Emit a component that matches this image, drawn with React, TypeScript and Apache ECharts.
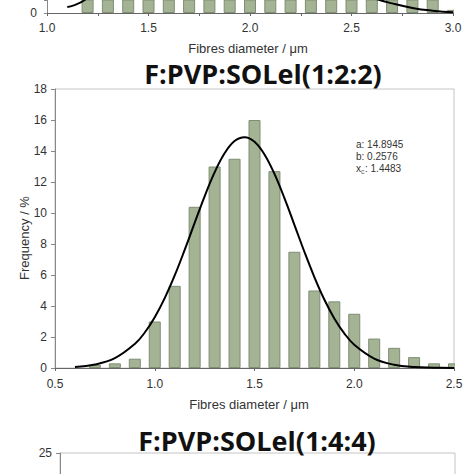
import React, { useEffect, useRef } from "react";
import * as echarts from "echarts";

// ---- Top (partially visible) chart ----
const topBins = [1.2, 1.3, 1.4, 1.5, 1.6, 1.7, 1.8, 1.9, 2.0, 2.1, 2.2, 2.3, 2.4, 2.5, 2.6, 2.7, 2.8, 2.9, 3.0];
const topFreq = [2.0, 3.5, 5.5, 8.0, 9.5, 11.0, 12.5, 11.0, 10.5, 9.0, 7.5, 5.5, 4.5, 3.0, 2.2, 1.5, 1.2, 1.0, 0.2];
const topFitX = [1.1, 1.2, 1.3, 1.4, 1.5, 1.6, 1.7, 1.8, 1.9, 2.0, 2.1, 2.2, 2.3, 2.4, 2.5, 2.6, 2.7, 2.8, 2.9, 3.0];
const topFitY = [0.39, 1.0, 3.0, 5.5, 8.2, 10.5, 11.8, 12.0, 11.2, 9.6, 7.6, 5.6, 3.8, 2.4, 1.5, 1.0, 0.62, 0.33, 0.15, 0.05];

// ---- Middle chart F:PVP:SOLel(1:2:2) ----
const midBins = [0.7, 0.8, 0.9, 1.0, 1.1, 1.2, 1.3, 1.4, 1.5, 1.6, 1.7, 1.8, 1.9, 2.0, 2.1, 2.2, 2.3, 2.4, 2.5];
const midFreq = [0.2, 0.3, 0.6, 3.0, 5.3, 10.4, 13.0, 13.5, 16.0, 12.7, 7.5, 5.0, 4.3, 3.5, 1.9, 1.3, 0.7, 0.3, 0.3];
const midFitX = [0.6, 0.7, 0.8, 0.9, 0.95, 1.0, 1.05, 1.1, 1.15, 1.2, 1.25, 1.3, 1.35, 1.4, 1.45, 1.5, 1.55, 1.6, 1.65, 1.7, 1.75, 1.8, 1.85, 1.9, 1.95, 2.0, 2.1, 2.2, 2.3, 2.4, 2.5];
const midFitY = [0.07, 0.22, 0.63, 1.55, 2.29, 3.28, 4.51, 5.97, 7.62, 9.36, 11.08, 12.62, 13.85, 14.64, 14.89, 14.6, 13.78, 12.52, 10.96, 9.24, 7.5, 5.87, 4.42, 3.2, 2.24, 1.5, 0.61, 0.21, 0.06, 0.02, 0.0];
const midParams = ["a: 14.8945", "b: 0.2576", "1.4483"];
const midTitle = "F:PVP:SOLel(1:2:2)";
const botTitle = "F:PVP:SOLel(1:4:4)";
const xTitle = "Fibres diameter / \u03bcm";
const yTitle = "Frequency / %";

const FONT = "'Liberation Sans', Arial, sans-serif";
const BAR_FILL = "#a4b394";
const BAR_EDGE = "#7e8d74";

export default function App() {
  const ref = useRef<HTMLDivElement>(null);
  useEffect(() => {
    if (!ref.current) return;
    const chart = echarts.init(ref.current, null, { renderer: "svg" });
    const labelStyle = { color: "#333", fontSize: 12, fontFamily: FONT };
    const fmtHalf = (v: number) => (Math.abs(v * 2 - Math.round(v * 2)) < 1e-6 ? v.toFixed(1) : "");
    const option: any = {
      animation: false,
      backgroundColor: "#fff",
      grid: [
        { left: 47, right: 21, top: 0, height: 13, show: false },
        { left: 55, right: 20, top: 89, height: 279, show: true, borderColor: "#c4c4c4", borderWidth: 1 },
        { left: 60, right: 19, top: 453, height: 279, show: true, borderColor: "#c4c4c4", borderWidth: 1 },
      ],
      xAxis: [
        {
          gridIndex: 0, type: "value", min: 1.0, max: 3.0, interval: 0.25,
          axisLine: { lineStyle: { color: "#666", width: 1 } },
          axisTick: { show: true, length: 3, lineStyle: { color: "#666" } },
          splitLine: { show: false },
          axisLabel: { ...labelStyle, margin: 9, formatter: fmtHalf },
        },
        {
          gridIndex: 1, type: "value", min: 0.5, max: 2.5, interval: 0.5,
          axisLine: { onZero: false, lineStyle: { color: "#666", width: 1 } },
          axisTick: { show: true, length: 3, lineStyle: { color: "#666" } },
          splitLine: { show: false },
          axisLabel: { ...labelStyle, margin: 10, formatter: (v: number) => v.toFixed(1) },
        },
        {
          gridIndex: 2, type: "value", min: 0.5, max: 2.5, interval: 0.5,
          axisLine: { show: false }, axisTick: { show: false }, axisLabel: { show: false },
          splitLine: { show: false },
        },
      ],
      yAxis: [
        {
          gridIndex: 0, type: "value", min: 0, max: 0.84, interval: 1,
          axisLine: { show: true, lineStyle: { color: "#888" } },
          axisTick: { show: true, length: 3, lineStyle: { color: "#888" } },
          splitLine: { show: false },
          axisLabel: { ...labelStyle, margin: 10, formatter: (v: number) => (v === 0 ? "0" : "") },
        },
        {
          gridIndex: 1, type: "value", min: 0, max: 18, interval: 2,
          axisLine: { show: true, lineStyle: { color: "#888" } },
          axisTick: { show: true, length: 4, lineStyle: { color: "#888" } },
          splitLine: { show: false },
          axisLabel: { ...labelStyle, margin: 8 },
        },
        {
          gridIndex: 2, type: "value", min: 0, max: 25, interval: 25,
          axisLine: { show: true, lineStyle: { color: "#888" } },
          axisTick: { show: true, length: 4, lineStyle: { color: "#888" } },
          splitLine: { show: false },
          axisLabel: { ...labelStyle, margin: 8, formatter: (v: number) => (v === 25 ? "25" : "") },
        },
      ],
      series: [
        {
          type: "bar", xAxisIndex: 0, yAxisIndex: 0, barWidth: 12, clip: true,
          data: topBins.map((b, i) => [b, topFreq[i]]),
          itemStyle: { color: BAR_FILL, borderColor: BAR_EDGE, borderWidth: 1 },
        },
        {
          type: "line", xAxisIndex: 0, yAxisIndex: 0, smooth: true, showSymbol: false, clip: true,
          data: topFitX.map((x, i) => [x, topFitY[i]]),
          lineStyle: { color: "#000", width: 2 },
        },
        {
          type: "bar", xAxisIndex: 1, yAxisIndex: 1, barWidth: 12, clip: true,
          data: midBins.map((b, i) => [b, midFreq[i]]),
          itemStyle: { color: BAR_FILL, borderColor: BAR_EDGE, borderWidth: 1 },
        },
        {
          type: "line", xAxisIndex: 1, yAxisIndex: 1, smooth: 0.4, showSymbol: false, clip: true,
          data: midFitX.map((x, i) => [x, midFitY[i]]),
          lineStyle: { color: "#000", width: 2 },
        },
      ],
      graphic: [
        // white masks for the bars that overflow the plot edge
        { type: "rect", z: 100, shape: { x: 454, y: 0, width: 20, height: 20 }, style: { fill: "#fff" } },
        { type: "rect", z: 100, shape: { x: 455, y: 80, width: 19, height: 288 }, style: { fill: "#fff" } },
        { type: "text", z: 101, x: 248, y: 48, style: { text: xTitle, fill: "#333", font: `13px ${FONT}`, textAlign: "center", textVerticalAlign: "middle" } },
        { type: "text", z: 101, x: 263, y: 73, style: { text: midTitle, fill: "#111", font: `bold 27px 'Open Sans', sans-serif`, textAlign: "center", textVerticalAlign: "middle" } },
        { type: "text", z: 101, x: 249, y: 404, style: { text: xTitle, fill: "#333", font: `13px ${FONT}`, textAlign: "center", textVerticalAlign: "middle" } },
        { type: "text", z: 101, x: 24, y: 238, rotation: Math.PI / 2, style: { text: yTitle, fill: "#333", font: `13px ${FONT}`, textAlign: "center", textVerticalAlign: "middle" } },
        { type: "text", z: 101, x: 356, y: 144, style: { text: midParams[0], fill: "#333", font: `10px ${FONT}`, textAlign: "left", textVerticalAlign: "middle" } },
        { type: "text", z: 101, x: 356, y: 156, style: { text: midParams[1], fill: "#333", font: `10px ${FONT}`, textAlign: "left", textVerticalAlign: "middle" } },
        { type: "text", z: 101, x: 356, y: 168, style: { text: "x", fill: "#333", font: `10px ${FONT}`, textAlign: "left", textVerticalAlign: "middle" } },
        { type: "text", z: 101, x: 361, y: 171, style: { text: "c", fill: "#666", font: `7px ${FONT}`, textAlign: "left", textVerticalAlign: "middle" } },
        { type: "text", z: 101, x: 365, y: 168, style: { text: ": " + midParams[2], fill: "#333", font: `10px ${FONT}`, textAlign: "left", textVerticalAlign: "middle" } },
        { type: "text", z: 101, x: 257, y: 440, style: { text: botTitle, fill: "#111", font: `bold 27px 'Open Sans', sans-serif`, textAlign: "center", textVerticalAlign: "middle" } },
      ],
    };
    chart.setOption(option);
    return () => chart.dispose();
  }, []);
  return <div ref={ref} style={{ position: "fixed", left: 0, top: 0, width: 474, height: 474, background: "#fff" }} />;
}
